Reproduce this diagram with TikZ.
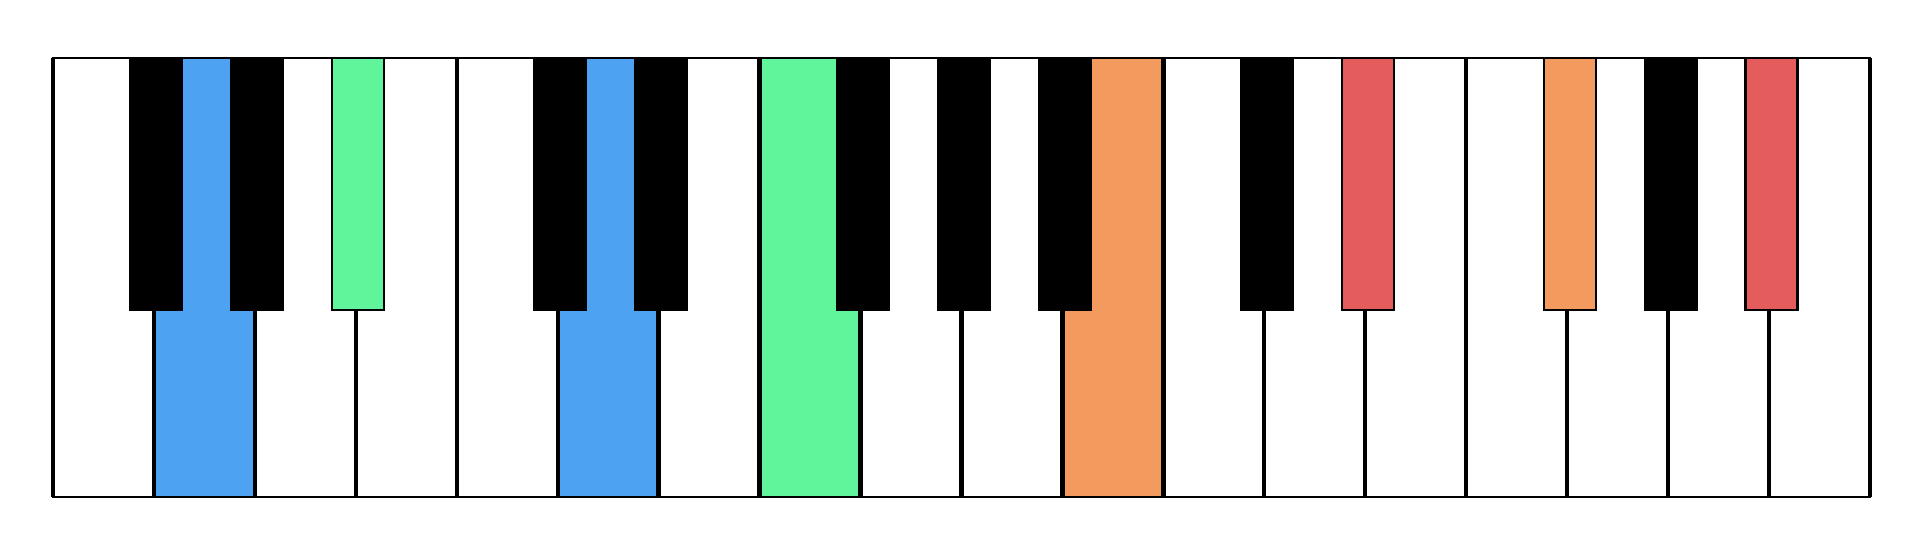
\documentclass[tikz,border=0pt]{standalone}
\usepackage{tikz}

\definecolor{keyblue}{RGB}{77,163,242}
\definecolor{keygreen}{RGB}{96,245,154}
\definecolor{keyorange}{RGB}{243,155,94}
\definecolor{keyred}{RGB}{229,92,92}

\begin{document}
\begin{tikzpicture}[
	whitekey/.style={line width=1.25pt},
	blackkey/.style={fill=black},
	markedkey/.style={draw=black,line width=0.6pt}]
	\useasboundingbox (0,0) rectangle (19.17,5.49);
	% white keys: F G A B C D E F G A B C D E F G A B
	\foreach \i/\col in {0/white,1/keyblue,2/white,3/white,4/white,5/keyblue,
		6/white,7/keygreen,8/white,9/white,10/keyorange,11/white,12/white,
		13/white,14/white,15/white,16/white,17/white}
		\fill[\col] (0.53+1.0094*\i,0.52) rectangle (0.53+1.0094*\i+1.0094,4.91);
	\foreach \i in {1,...,17}
		\draw[whitekey] (0.53+1.0094*\i,0.52) -- (0.53+1.0094*\i,4.91);
	\draw[line width=0.8pt] (0.53,0.52) rectangle (18.70,4.91);
	\draw[whitekey] (0.53,0.52) -- (0.53,4.91) (18.70,0.52) -- (18.70,4.91);
	% black keys
	\foreach \j/\col in {1/black,2/black,3/keygreen,5/black,6/black,8/black,
		9/black,10/black,12/black,13/keyred,15/keyorange,16/black,17/keyred}
		\filldraw[fill=\col,markedkey] (0.555+1.0094*\j-0.26,2.39) rectangle (0.555+1.0094*\j+0.26,4.91);
\end{tikzpicture}
\end{document}
